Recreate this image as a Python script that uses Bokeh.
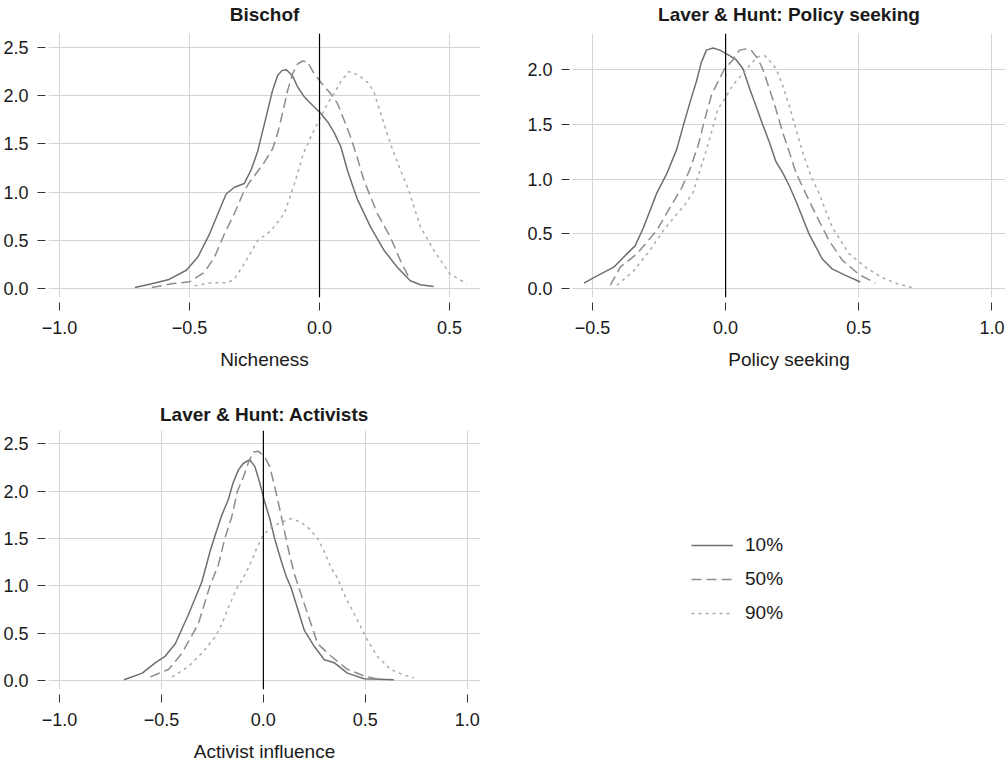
from bokeh.plotting import figure
from bokeh.layouts import column, row
from bokeh.models import Span, FixedTicker, CustomJSTickFormatter, Legend, LegendItem, Title
from bokeh.embed import file_html
from bokeh.resources import INLINE

# density curves: 10%, 50%, 90%

# Bischof (Nicheness)
bis_x10 = [-0.71, -0.645, -0.582, -0.512, -0.467, -0.422, -0.39, -0.359, -0.327, -0.289, -0.263, -0.237,
           -0.218, -0.199, -0.18, -0.161, -0.145, -0.129, -0.116, -0.103, -0.084, -0.059, -0.027, 0.0,
           0.031, 0.056, 0.082, 0.107, 0.132, 0.145, 0.196, 0.247, 0.299, 0.349, 0.388, 0.439]
bis_y10 = [0.01, 0.05, 0.09, 0.19, 0.33, 0.57, 0.78, 0.98, 1.05, 1.09, 1.23, 1.43,
           1.64, 1.85, 2.06, 2.21, 2.26, 2.27, 2.24, 2.20, 2.09, 1.99, 1.90, 1.83,
           1.73, 1.62, 1.47, 1.23, 1.03, 0.93, 0.64, 0.40, 0.22, 0.08, 0.04, 0.02]
bis_x50 = [-0.645, -0.569, -0.499, -0.442, -0.403, -0.365, -0.327, -0.295, -0.27, -0.25, -0.212,
           -0.18, -0.16, -0.142, -0.122, -0.103, -0.084, -0.065, -0.046, -0.021, 0.005, 0.043,
           0.069, 0.094, 0.12, 0.145, 0.171, 0.222, 0.273, 0.311, 0.343]
bis_y50 = [0.01, 0.05, 0.07, 0.17, 0.33, 0.57, 0.78, 0.98, 1.10, 1.17, 1.31,
           1.45, 1.62, 1.82, 2.06, 2.23, 2.33, 2.36, 2.35, 2.23, 2.14, 2.02,
           1.92, 1.75, 1.57, 1.36, 1.12, 0.78, 0.53, 0.29, 0.12]
bis_x90 = [-0.48, -0.416, -0.352, -0.327, -0.289, -0.237, -0.186, -0.135, -0.097, -0.062, -0.027,
           0.005, 0.031, 0.056, 0.082, 0.113, 0.152, 0.184, 0.209, 0.235, 0.273, 0.311, 0.343,
           0.388, 0.439, 0.502, 0.566]
bis_y90 = [0.03, 0.06, 0.06, 0.10, 0.26, 0.50, 0.60, 0.78, 1.08, 1.40, 1.61,
           1.78, 1.92, 2.02, 2.15, 2.25, 2.21, 2.14, 2.04, 1.82, 1.50, 1.23, 1.02,
           0.64, 0.40, 0.15, 0.05]

# Laver & Hunt: Policy seeking
pol_x10 = [-0.532, -0.495, -0.42, -0.371, -0.34, -0.308, -0.259, -0.221, -0.184, -0.159, -0.134,
           -0.109, -0.091, -0.072, -0.047, -0.022, 0.015, 0.04, 0.065, 0.09, 0.114, 0.139, 0.164,
           0.189, 0.214, 0.239, 0.264, 0.313, 0.363, 0.40, 0.45, 0.506]
pol_y10 = [0.05, 0.10, 0.195, 0.317, 0.39, 0.56, 0.87, 1.05, 1.27, 1.49, 1.70,
           1.90, 2.07, 2.18, 2.20, 2.18, 2.13, 2.09, 2.01, 1.83, 1.67, 1.50, 1.34,
           1.16, 1.06, 0.94, 0.80, 0.50, 0.27, 0.18, 0.12, 0.06]
pol_x50 = [-0.433, -0.396, -0.333, -0.259, -0.209, -0.165, -0.134, -0.103, -0.078, -0.053, -0.029,
           -0.004, 0.027, 0.052, 0.077, 0.096, 0.121, 0.139, 0.164, 0.189, 0.214, 0.239, 0.264,
           0.289, 0.338, 0.388, 0.438, 0.5, 0.562]
pol_y50 = [0.03, 0.195, 0.317, 0.53, 0.74, 0.92, 1.09, 1.31, 1.55, 1.77, 1.89,
           2.01, 2.09, 2.18, 2.19, 2.18, 2.10, 2.01, 1.83, 1.64, 1.43, 1.25, 1.06,
           0.93, 0.68, 0.44, 0.26, 0.13, 0.05]
pol_x90 = [-0.408, -0.346, -0.284, -0.234, -0.184, -0.155, -0.122, -0.103, -0.078, -0.053, -0.029,
           -0.004, 0.027, 0.059, 0.09, 0.121, 0.146, 0.17, 0.189, 0.214, 0.239, 0.264, 0.289,
           0.32, 0.351, 0.40, 0.463, 0.525, 0.587, 0.649, 0.699]
pol_y90 = [0.03, 0.16, 0.35, 0.53, 0.68, 0.76, 0.88, 1.03, 1.22, 1.43, 1.64,
           1.73, 1.86, 1.95, 2.04, 2.12, 2.13, 2.07, 2.01, 1.86, 1.67, 1.46, 1.25,
           1.03, 0.87, 0.56, 0.32, 0.195, 0.10, 0.04, 0.01]

# Laver & Hunt: Activists
act_x10 = [-0.683, -0.594, -0.529, -0.481, -0.432, -0.367, -0.302, -0.262, -0.237, -0.205, -0.172,
           -0.148, -0.123, -0.099, -0.067, -0.042, -0.018, 0.003, 0.031, 0.055, 0.088, 0.112, 0.136,
           0.201, 0.25, 0.299, 0.347, 0.412, 0.494, 0.64]
act_y10 = [0.01, 0.08, 0.19, 0.26, 0.39, 0.70, 1.04, 1.36, 1.53, 1.74, 1.91,
           2.09, 2.22, 2.29, 2.33, 2.26, 2.09, 1.91, 1.71, 1.50, 1.26, 1.10, 0.98,
           0.53, 0.36, 0.22, 0.19, 0.08, 0.02, 0.01]
act_x50 = [-0.554, -0.464, -0.399, -0.319, -0.262, -0.221, -0.189, -0.156, -0.127, -0.099, -0.075,
           -0.05, -0.025, 0.006, 0.031, 0.055, 0.08, 0.104, 0.128, 0.153, 0.185, 0.266, 0.331,
           0.412, 0.494, 0.575]
act_y50 = [0.04, 0.12, 0.29, 0.60, 1.00, 1.22, 1.50, 1.72, 2.00, 2.14, 2.29,
           2.41, 2.42, 2.36, 2.26, 2.05, 1.81, 1.57, 1.33, 1.12, 0.91, 0.39, 0.26,
           0.12, 0.05, 0.01]
act_x90 = [-0.448, -0.367, -0.302, -0.237, -0.205, -0.172, -0.124, -0.099, -0.067, -0.034, -0.01,
           0.006, 0.039, 0.088, 0.137, 0.185, 0.226, 0.267, 0.299, 0.332, 0.364, 0.396, 0.461,
           0.51, 0.558, 0.623, 0.688, 0.737]
act_y90 = [0.04, 0.15, 0.29, 0.46, 0.59, 0.77, 1.00, 1.08, 1.22, 1.39, 1.50,
           1.55, 1.62, 1.67, 1.71, 1.67, 1.60, 1.50, 1.36, 1.19, 1.08, 0.91, 0.64,
           0.43, 0.26, 0.12, 0.06, 0.03]

labels = ["10%", "50%", "90%"]

FONT = "Liberation Sans"
TXT = "#1a1a1a"
styles = [dict(line_color="#6f6f6f", line_width=1.5, line_dash="solid"),
          dict(line_color="#8c8c8c", line_width=1.5, line_dash="10 5"),
          dict(line_color="#ababab", line_width=1.5, line_dash="3 4")]

fmt = CustomJSTickFormatter(code="return tick.toFixed(1).replace('-', '\u2212')")


def panel(title, xlabel, xr, yr, xticks, yticks, w, h, left, right, bottom, gap):
    p = figure(width=w, height=h, x_range=xr, y_range=yr,
               output_backend="svg", toolbar_location=None,
               min_border_left=left, min_border_right=right,
               min_border_top=33, min_border_bottom=bottom)
    p.outline_line_color = None
    # blank strip between title and plot area
    p.add_layout(Title(text=" ", text_font_size="1px", standoff=gap), "above")
    p.title.text = title
    p.title.align = "center"
    p.title.text_font = FONT
    p.title.text_font_size = "19px"
    p.title.text_font_style = "bold"
    p.title.text_color = TXT
    p.title.standoff = 0

    p.xaxis.ticker = FixedTicker(ticks=xticks)
    p.yaxis.ticker = FixedTicker(ticks=yticks)
    p.axis.formatter = fmt
    p.axis.axis_line_color = None
    p.axis.minor_tick_line_color = None
    p.axis.major_tick_line_color = "#333333"
    p.axis.major_label_text_font = FONT
    p.axis.major_label_text_font_size = "18px"
    p.axis.major_label_text_color = TXT
    p.xaxis.major_tick_in = -5
    p.xaxis.major_tick_out = 13
    p.xaxis.major_label_standoff = 10
    p.yaxis.major_tick_in = -3
    p.yaxis.major_tick_out = 11
    p.yaxis.major_label_standoff = 9
    p.xaxis.axis_label = xlabel
    p.xaxis.axis_label_text_font = FONT
    p.xaxis.axis_label_text_font_size = "19px"
    p.xaxis.axis_label_text_font_style = "normal"
    p.xaxis.axis_label_text_color = TXT
    p.xaxis.axis_label_standoff = 12

    p.grid.grid_line_color = "#d4d4d4"
    p.grid.grid_line_width = 1
    p.add_layout(Span(location=0, dimension="height", line_color="black", line_width=1.2))
    return p


f1 = panel("Bischof", "Nicheness", (-1.042, 0.619), (-0.093, 2.645),
           [-1.0, -0.5, 0.0, 0.5], [0, 0.5, 1.0, 1.5, 2.0, 2.5], 500, 397, 46, 20, 100, 6)
f2 = panel("Laver & Hunt: Policy seeking", "Policy seeking", (-0.575, 1.051), (-0.082, 2.332),
           [-0.5, 0.0, 0.5, 1.0], [0, 0.5, 1.0, 1.5, 2.0], 506, 397, 72, 1, 100, 6)
f3 = panel("Laver & Hunt: Activists", "Activist influence", (-1.054, 1.065), (-0.093, 2.638),
           [-1.0, -0.5, 0.0, 0.5, 1.0], [0, 0.5, 1.0, 1.5, 2.0, 2.5], 500, 367, 46, 20, 72, 3)

for p, xs, ys in [(f1, [bis_x10, bis_x50, bis_x90], [bis_y10, bis_y50, bis_y90]),
                  (f2, [pol_x10, pol_x50, pol_x90], [pol_y10, pol_y50, pol_y90]),
                  (f3, [act_x10, act_x50, act_x90], [act_y10, act_y50, act_y90])]:
    for x, y, st in zip(xs, ys, styles):
        p.line(x, y, **st)

# legend panel: keys only, the lines themselves sit outside its range
f4 = figure(width=506, height=367, x_range=(10, 11), y_range=(10, 11),
            output_backend="svg", toolbar_location=None,
            x_axis_location=None, y_axis_location=None,
            min_border_left=0, min_border_right=0, min_border_top=0, min_border_bottom=0)
f4.outline_line_color = None
f4.grid.visible = False
items = []
for lab, st, x, y in zip(labels, styles, [act_x10, act_x50, act_x90], [act_y10, act_y50, act_y90]):
    r = f4.line(x, y, **st)
    items.append(LegendItem(label=lab, renderers=[r]))
leg = Legend(items=items, location=(191, 65))
leg.padding = 0
leg.margin = 0
leg.border_line_color = None
leg.background_fill_alpha = 0
leg.glyph_width = 42
leg.glyph_height = 22
leg.label_height = 22
leg.spacing = 12
leg.label_standoff = 12
leg.label_text_font = FONT
leg.label_text_font_size = "19px"
leg.label_text_color = TXT
f4.add_layout(leg)

layout = column(row(f1, f2), row(f3, f4))

open("out.html", "w").write(file_html(layout, INLINE))
